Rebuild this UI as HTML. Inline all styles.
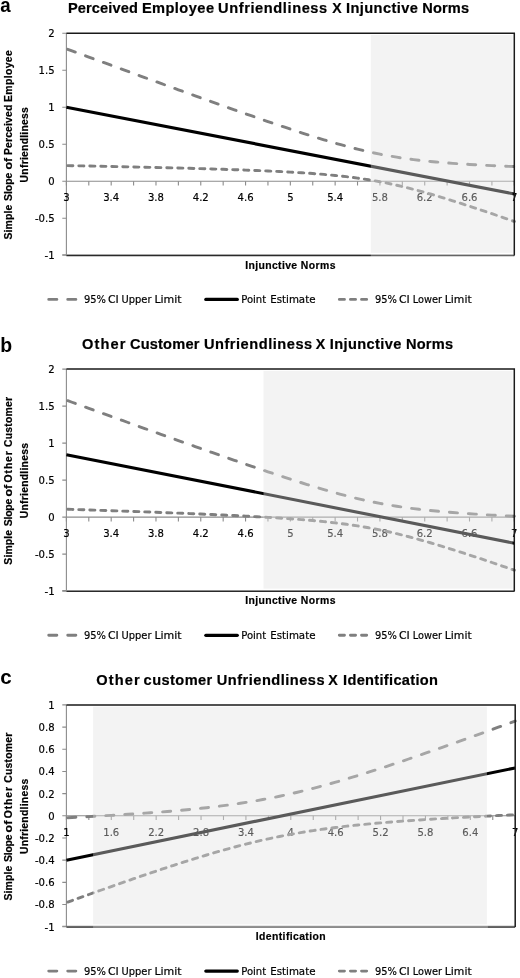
<!DOCTYPE html>
<html><head><meta charset="utf-8"><title>Figure</title>
<style>html,body{margin:0;padding:0;background:#fff}svg{display:block}</style></head>
<body>
<svg width="520" height="978" viewBox="0 0 520 978">
<rect width="520" height="978" fill="#fff"/>
<g>
<text x="0.2" y="12.1" font-family="'Liberation Sans', sans-serif" font-weight="bold" font-size="20.6" textLength="10.4" lengthAdjust="spacingAndGlyphs">a</text>
<text y="12.8" font-family="'Liberation Sans', sans-serif" font-weight="bold" font-size="14.6" stroke="#000" stroke-width="0.2"><tspan x="67.9" textLength="69.9" lengthAdjust="spacing">Perceived</tspan> <tspan x="141.9" textLength="72.1" lengthAdjust="spacing">Employee</tspan> <tspan x="218.1" textLength="109.1" lengthAdjust="spacing">Unfriendliness</tspan> <tspan x="332.2" textLength="9.4" lengthAdjust="spacingAndGlyphs">X</tspan> <tspan x="346.1" textLength="71.7" lengthAdjust="spacing">Injunctive</tspan> <tspan x="422.3" textLength="46.7" lengthAdjust="spacing">Norms</tspan></text>
<text transform="translate(11.7,0) rotate(-90)" font-family="'Liberation Sans', sans-serif" font-weight="bold" font-size="10.4" stroke="#000" stroke-width="0.2"><tspan x="-239.6" textLength="34.9" lengthAdjust="spacing">Simple</tspan> <tspan x="-201" textLength="28.4" lengthAdjust="spacing">Slope</tspan> <tspan x="-169.5" textLength="11.6" lengthAdjust="spacingAndGlyphs">of</tspan> <tspan x="-155.1" textLength="50.4" lengthAdjust="spacing">Perceived</tspan> <tspan x="-102" textLength="51.8" lengthAdjust="spacing">Employee</tspan></text>
<text transform="translate(28,182.4) rotate(-90)" font-family="'Liberation Sans', sans-serif" font-weight="bold" font-size="10.4" stroke="#000" stroke-width="0.2" textLength="75.3" lengthAdjust="spacing">Unfriendliness</text>
<text y="268.5" font-family="'Liberation Sans', sans-serif" font-weight="bold" font-size="10.4" stroke="#000" stroke-width="0.2"><tspan x="245.3" textLength="51.8" lengthAdjust="spacing">Injunctive</tspan> <tspan x="300.7" textLength="34.9" lengthAdjust="spacing">Norms</tspan></text>
<g stroke="#8c8c8c" stroke-width="1.1" fill="none">
<path d="M66.4 33.2V255.2"/>
<path d="M66.4 181.2H514.3"/>
<path d="M62.3 255.2H66.4M62.3 218.2H66.4M62.3 181.2H66.4M62.3 144.2H66.4M62.3 107.2H66.4M62.3 70.2H66.4M62.3 33.2H66.4M66.4 181.2v4.3M88.8 181.2v4.3M111.19 181.2v4.3M133.59 181.2v4.3M155.98 181.2v4.3M178.38 181.2v4.3M200.77 181.2v4.3M223.17 181.2v4.3M245.56 181.2v4.3M267.95 181.2v4.3M290.35 181.2v4.3M312.75 181.2v4.3M335.14 181.2v4.3M357.53 181.2v4.3M379.93 181.2v4.3M402.32 181.2v4.3M424.72 181.2v4.3M447.12 181.2v4.3M469.51 181.2v4.3M491.91 181.2v4.3M514.3 181.2v4.3"/>
</g>
<g font-family="'DejaVu Sans', sans-serif" font-size="11" fill="#000" stroke="#000" stroke-width="0.2">
<text x="54.6" y="259.1" text-anchor="end" textLength="10.1" lengthAdjust="spacingAndGlyphs">-1</text>
<text x="54.6" y="222.1" text-anchor="end" textLength="19.7" lengthAdjust="spacingAndGlyphs">-0.5</text>
<text x="54.6" y="185.1" text-anchor="end" textLength="6.4" lengthAdjust="spacingAndGlyphs">0</text>
<text x="54.6" y="148.1" text-anchor="end" textLength="16" lengthAdjust="spacingAndGlyphs">0.5</text>
<text x="54.6" y="111.1" text-anchor="end" textLength="6.4" lengthAdjust="spacingAndGlyphs">1</text>
<text x="54.6" y="74.1" text-anchor="end" textLength="16" lengthAdjust="spacingAndGlyphs">1.5</text>
<text x="54.6" y="37.1" text-anchor="end" textLength="6.4" lengthAdjust="spacingAndGlyphs">2</text>
<text x="66.4" y="201.2" text-anchor="middle" textLength="6.4" lengthAdjust="spacingAndGlyphs">3</text>
<text x="111.19" y="201.2" text-anchor="middle" textLength="16" lengthAdjust="spacingAndGlyphs">3.4</text>
<text x="155.98" y="201.2" text-anchor="middle" textLength="16" lengthAdjust="spacingAndGlyphs">3.8</text>
<text x="200.77" y="201.2" text-anchor="middle" textLength="16" lengthAdjust="spacingAndGlyphs">4.2</text>
<text x="245.56" y="201.2" text-anchor="middle" textLength="16" lengthAdjust="spacingAndGlyphs">4.6</text>
<text x="290.35" y="201.2" text-anchor="middle" textLength="6.4" lengthAdjust="spacingAndGlyphs">5</text>
<text x="335.14" y="201.2" text-anchor="middle" textLength="16" lengthAdjust="spacingAndGlyphs">5.4</text>
<text x="379.93" y="201.2" text-anchor="middle" textLength="16" lengthAdjust="spacingAndGlyphs">5.8</text>
<text x="424.72" y="201.2" text-anchor="middle" textLength="16" lengthAdjust="spacingAndGlyphs">6.2</text>
<text x="469.51" y="201.2" text-anchor="middle" textLength="16" lengthAdjust="spacingAndGlyphs">6.6</text>
<text x="514.3" y="201.2" text-anchor="middle" textLength="6.4" lengthAdjust="spacingAndGlyphs">7</text>
</g>
<path d="M62.3 254.7H514.3" stroke="#8c8c8c" stroke-width="1.1"/>
<g fill="none" stroke-width="2.9" stroke-linecap="round">
<path d="M66.4 48.81L72 50.87L77.6 52.93L83.2 54.99L88.8 57.05L94.39 59.11L99.99 61.17L105.59 63.22L111.19 65.28L116.79 67.33L122.39 69.38L127.99 71.43L133.59 73.47L139.18 75.52L144.78 77.56L150.38 79.6L155.98 81.64L161.58 83.68L167.18 85.71L172.78 87.74L178.38 89.77L183.97 91.8L189.57 93.82L195.17 95.84L200.77 97.85L206.37 99.86L211.97 101.86L217.57 103.86L223.17 105.86L228.76 107.84L234.36 109.83L239.96 111.8L245.56 113.77L251.16 115.72L256.76 117.67L262.36 119.61L267.95 121.54L273.55 123.45L279.15 125.35L284.75 127.23L290.35 129.1L295.95 130.94L301.55 132.77L307.15 134.57L312.75 136.35L318.34 138.09L323.94 139.8L329.54 141.48L335.14 143.11L340.74 144.7L346.34 146.23L351.94 147.72L357.53 149.14L363.13 150.5L368.73 151.79L374.33 153.02L379.93 154.17L385.53 155.24L391.13 156.25L396.73 157.18L402.32 158.05L407.92 158.84L413.52 159.58L419.12 160.25L424.72 160.88L430.32 161.45L435.92 161.98L441.52 162.47L447.12 162.92L452.71 163.34L458.31 163.73L463.91 164.09L469.51 164.43L475.11 164.75L480.71 165.05L486.31 165.34L491.91 165.61L497.5 165.86L503.1 166.1L508.7 166.33L514.3 166.55" stroke="#7f7f7f" stroke-dasharray="8.1 10.9" stroke-dashoffset="-1.4"/>
<path d="M66.4 165.59L72 165.7L77.6 165.81L83.2 165.92L88.8 166.03L94.39 166.14L99.99 166.25L105.59 166.37L111.19 166.48L116.79 166.6L122.39 166.72L127.99 166.84L133.59 166.97L139.18 167.09L144.78 167.22L150.38 167.35L155.98 167.48L161.58 167.61L167.18 167.75L172.78 167.89L178.38 168.03L183.97 168.17L189.57 168.32L195.17 168.48L200.77 168.63L206.37 168.79L211.97 168.96L217.57 169.13L223.17 169.31L228.76 169.49L234.36 169.68L239.96 169.87L245.56 170.08L251.16 170.29L256.76 170.51L262.36 170.74L267.95 170.99L273.55 171.24L279.15 171.51L284.75 171.8L290.35 172.1L295.95 172.43L301.55 172.77L307.15 173.14L312.75 173.54L318.34 173.96L323.94 174.42L329.54 174.92L335.14 175.45L340.74 176.04L346.34 176.67L351.94 177.36L357.53 178.1L363.13 178.91L368.73 179.79L374.33 180.74L379.93 181.76L385.53 182.85L391.13 184.01L396.73 185.25L402.32 186.56L407.92 187.93L413.52 189.37L419.12 190.86L424.72 192.41L430.32 194L435.92 195.64L441.52 197.32L447.12 199.04L452.71 200.79L458.31 202.57L463.91 204.38L469.51 206.21L475.11 208.06L480.71 209.93L486.31 211.82L491.91 213.72L497.5 215.63L503.1 217.56L508.7 219.5L514.3 221.45" stroke="#7f7f7f" stroke-dasharray="5.1 5.9" stroke-dashoffset="-1.4"/>
<path d="M66.4 107.2L514.3 194" stroke="#000" stroke-width="3.1" stroke-linecap="butt"/>
</g>
<path d="M66.4 33.2H514.3V255.6" fill="none" stroke="#1a1a1a" stroke-width="1.5"/>
<path d="M66.4 255.6H514.3" stroke="#2a2a2a" stroke-width="1.2"/>
<rect x="370.8" y="35" width="141.8" height="217.8" fill="#e2e2e2" fill-opacity="0.4"/>
<rect x="370.8" y="253.9" width="142.8" height="3" fill="#fff" fill-opacity="0.28"/>
<g fill="none" stroke-width="2.9" stroke-linecap="round">
<path d="M48.75 299.4H75.9" stroke="#7f7f7f" stroke-dasharray="8.1 10.9"/>
<path d="M205.8 299.4H237.3" stroke="#000" stroke-width="3.2"/>
<path d="M339.35 299.4H366.7" stroke="#7f7f7f" stroke-dasharray="5.1 6"/>
</g>
<g font-family="'DejaVu Sans', sans-serif" font-size="11" fill="#000" stroke="#000" stroke-width="0.2">
<text y="303.4"><tspan x="83.95" textLength="22.05" lengthAdjust="spacingAndGlyphs">95%</tspan> <tspan x="107.9" textLength="10.8" lengthAdjust="spacingAndGlyphs">CI</tspan> <tspan x="121.6" textLength="29.9" lengthAdjust="spacingAndGlyphs">Upper</tspan> <tspan x="154.4" textLength="27.3" lengthAdjust="spacingAndGlyphs">Limit</tspan></text>
<text y="303.4"><tspan x="241.2" textLength="25" lengthAdjust="spacingAndGlyphs">Point</tspan> <tspan x="270.2" textLength="45.3" lengthAdjust="spacingAndGlyphs">Estimate</tspan></text>
<text y="303.4"><tspan x="375" textLength="22" lengthAdjust="spacingAndGlyphs">95%</tspan> <tspan x="398.9" textLength="10.8" lengthAdjust="spacingAndGlyphs">CI</tspan> <tspan x="412.7" textLength="29.2" lengthAdjust="spacingAndGlyphs">Lower</tspan> <tspan x="444.8" textLength="26.9" lengthAdjust="spacingAndGlyphs">Limit</tspan></text>
</g>
</g>
<g>
<text x="0.2" y="351.8" font-family="'Liberation Sans', sans-serif" font-weight="bold" font-size="20.6" textLength="11.9" lengthAdjust="spacingAndGlyphs">b</text>
<text y="348.7" font-family="'Liberation Sans', sans-serif" font-weight="bold" font-size="14.6" stroke="#000" stroke-width="0.2"><tspan x="82.1" textLength="43.3" lengthAdjust="spacing">Other</tspan> <tspan x="129.9" textLength="69.5" lengthAdjust="spacing">Customer</tspan> <tspan x="203.9" textLength="108.3" lengthAdjust="spacing">Unfriendliness</tspan> <tspan x="315.8" textLength="9.5" lengthAdjust="spacingAndGlyphs">X</tspan> <tspan x="329.8" textLength="71.6" lengthAdjust="spacing">Injunctive</tspan> <tspan x="405.9" textLength="47.1" lengthAdjust="spacing">Norms</tspan></text>
<text transform="translate(11.7,0) rotate(-90)" font-family="'Liberation Sans', sans-serif" font-weight="bold" font-size="10.4" stroke="#000" stroke-width="0.2"><tspan x="-564.7" textLength="34.8" lengthAdjust="spacing">Simple</tspan> <tspan x="-526.2" textLength="27.5" lengthAdjust="spacing">Slope</tspan> <tspan x="-496.6" textLength="11.7" lengthAdjust="spacingAndGlyphs">of</tspan> <tspan x="-482.4" textLength="31.2" lengthAdjust="spacing">Other</tspan> <tspan x="-447" textLength="50.1" lengthAdjust="spacing">Customer</tspan></text>
<text transform="translate(28,518.3) rotate(-90)" font-family="'Liberation Sans', sans-serif" font-weight="bold" font-size="10.4" stroke="#000" stroke-width="0.2" textLength="75.3" lengthAdjust="spacing">Unfriendliness</text>
<text y="604.4" font-family="'Liberation Sans', sans-serif" font-weight="bold" font-size="10.4" stroke="#000" stroke-width="0.2"><tspan x="245.3" textLength="51.8" lengthAdjust="spacing">Injunctive</tspan> <tspan x="300.7" textLength="34.9" lengthAdjust="spacing">Norms</tspan></text>
<g stroke="#8c8c8c" stroke-width="1.1" fill="none">
<path d="M66.4 369.1V591.1"/>
<path d="M66.4 517.1H514.3"/>
<path d="M62.3 591.1H66.4M62.3 554.1H66.4M62.3 517.1H66.4M62.3 480.1H66.4M62.3 443.1H66.4M62.3 406.1H66.4M62.3 369.1H66.4M66.4 517.1v4.3M88.8 517.1v4.3M111.19 517.1v4.3M133.59 517.1v4.3M155.98 517.1v4.3M178.38 517.1v4.3M200.77 517.1v4.3M223.17 517.1v4.3M245.56 517.1v4.3M267.95 517.1v4.3M290.35 517.1v4.3M312.75 517.1v4.3M335.14 517.1v4.3M357.53 517.1v4.3M379.93 517.1v4.3M402.32 517.1v4.3M424.72 517.1v4.3M447.12 517.1v4.3M469.51 517.1v4.3M491.91 517.1v4.3M514.3 517.1v4.3"/>
</g>
<g font-family="'DejaVu Sans', sans-serif" font-size="11" fill="#000" stroke="#000" stroke-width="0.2">
<text x="54.6" y="595" text-anchor="end" textLength="10.1" lengthAdjust="spacingAndGlyphs">-1</text>
<text x="54.6" y="558" text-anchor="end" textLength="19.7" lengthAdjust="spacingAndGlyphs">-0.5</text>
<text x="54.6" y="521" text-anchor="end" textLength="6.4" lengthAdjust="spacingAndGlyphs">0</text>
<text x="54.6" y="484" text-anchor="end" textLength="16" lengthAdjust="spacingAndGlyphs">0.5</text>
<text x="54.6" y="447" text-anchor="end" textLength="6.4" lengthAdjust="spacingAndGlyphs">1</text>
<text x="54.6" y="410" text-anchor="end" textLength="16" lengthAdjust="spacingAndGlyphs">1.5</text>
<text x="54.6" y="373" text-anchor="end" textLength="6.4" lengthAdjust="spacingAndGlyphs">2</text>
<text x="66.4" y="537.1" text-anchor="middle" textLength="6.4" lengthAdjust="spacingAndGlyphs">3</text>
<text x="111.19" y="537.1" text-anchor="middle" textLength="16" lengthAdjust="spacingAndGlyphs">3.4</text>
<text x="155.98" y="537.1" text-anchor="middle" textLength="16" lengthAdjust="spacingAndGlyphs">3.8</text>
<text x="200.77" y="537.1" text-anchor="middle" textLength="16" lengthAdjust="spacingAndGlyphs">4.2</text>
<text x="245.56" y="537.1" text-anchor="middle" textLength="16" lengthAdjust="spacingAndGlyphs">4.6</text>
<text x="290.35" y="537.1" text-anchor="middle" textLength="6.4" lengthAdjust="spacingAndGlyphs">5</text>
<text x="335.14" y="537.1" text-anchor="middle" textLength="16" lengthAdjust="spacingAndGlyphs">5.4</text>
<text x="379.93" y="537.1" text-anchor="middle" textLength="16" lengthAdjust="spacingAndGlyphs">5.8</text>
<text x="424.72" y="537.1" text-anchor="middle" textLength="16" lengthAdjust="spacingAndGlyphs">6.2</text>
<text x="469.51" y="537.1" text-anchor="middle" textLength="16" lengthAdjust="spacingAndGlyphs">6.6</text>
<text x="514.3" y="537.1" text-anchor="middle" textLength="6.4" lengthAdjust="spacingAndGlyphs">7</text>
</g>
<path d="M62.3 590.6H514.3" stroke="#8c8c8c" stroke-width="1.1"/>
<g fill="none" stroke-width="2.9" stroke-linecap="round">
<path d="M66.4 400.21L72 402.24L77.6 404.27L83.2 406.3L88.8 408.33L94.39 410.36L99.99 412.38L105.59 414.4L111.19 416.43L116.79 418.45L122.39 420.47L127.99 422.49L133.59 424.5L139.18 426.52L144.78 428.53L150.38 430.54L155.98 432.54L161.58 434.55L167.18 436.55L172.78 438.55L178.38 440.55L183.97 442.54L189.57 444.53L195.17 446.51L200.77 448.49L206.37 450.47L211.97 452.44L217.57 454.41L223.17 456.37L228.76 458.32L234.36 460.27L239.96 462.21L245.56 464.14L251.16 466.06L256.76 467.97L262.36 469.87L267.95 471.76L273.55 473.64L279.15 475.5L284.75 477.34L290.35 479.16L295.95 480.97L301.55 482.75L307.15 484.51L312.75 486.23L318.34 487.93L323.94 489.59L329.54 491.21L335.14 492.79L340.74 494.32L346.34 495.8L351.94 497.22L357.53 498.58L363.13 499.89L368.73 501.12L374.33 502.29L379.93 503.39L385.53 504.42L391.13 505.39L396.73 506.29L402.32 507.12L407.92 507.9L413.52 508.63L419.12 509.3L424.72 509.93L430.32 510.51L435.92 511.06L441.52 511.57L447.12 512.05L452.71 512.5L458.31 512.93L463.91 513.33L469.51 513.72L475.11 514.08L480.71 514.43L486.31 514.77L491.91 515.09L497.5 515.4L503.1 515.7L508.7 515.99L514.3 516.27" stroke="#7f7f7f" stroke-dasharray="8.1 10.9" stroke-dashoffset="-1.4"/>
<path d="M66.4 509.23L72 509.41L77.6 509.59L83.2 509.77L88.8 509.96L94.39 510.14L99.99 510.33L105.59 510.52L111.19 510.71L116.79 510.9L122.39 511.09L127.99 511.29L133.59 511.49L139.18 511.68L144.78 511.89L150.38 512.09L155.98 512.29L161.58 512.5L167.18 512.71L172.78 512.93L178.38 513.14L183.97 513.36L189.57 513.59L195.17 513.81L200.77 514.04L206.37 514.28L211.97 514.52L217.57 514.77L223.17 515.02L228.76 515.28L234.36 515.54L239.96 515.82L245.56 516.1L251.16 516.39L256.76 516.69L262.36 517L267.95 517.33L273.55 517.66L279.15 518.02L284.75 518.39L290.35 518.78L295.95 519.18L301.55 519.62L307.15 520.07L312.75 520.56L318.34 521.08L323.94 521.63L329.54 522.22L335.14 522.86L340.74 523.54L346.34 524.27L351.94 525.06L357.53 525.91L363.13 526.82L368.73 527.79L374.33 528.84L379.93 529.95L385.53 531.13L391.13 532.38L396.73 533.69L402.32 535.07L407.92 536.5L413.52 537.99L419.12 539.53L424.72 541.12L430.32 542.74L435.92 544.41L441.52 546.11L447.12 547.84L452.71 549.6L458.31 551.39L463.91 553.2L469.51 555.03L475.11 556.87L480.71 558.73L486.31 560.61L491.91 562.5L497.5 564.41L503.1 566.32L508.7 568.24L514.3 570.18" stroke="#7f7f7f" stroke-dasharray="5.1 5.9" stroke-dashoffset="-1.4"/>
<path d="M66.4 454.72L514.3 543.22" stroke="#000" stroke-width="3.1" stroke-linecap="butt"/>
</g>
<path d="M66.4 369.1H514.3V591.5" fill="none" stroke="#1a1a1a" stroke-width="1.5"/>
<path d="M66.4 591.5H514.3" stroke="#2a2a2a" stroke-width="1.2"/>
<rect x="263.5" y="370.9" width="249.1" height="217.8" fill="#e2e2e2" fill-opacity="0.4"/>
<g fill="none" stroke-width="2.9" stroke-linecap="round">
<path d="M48.75 635.3H75.9" stroke="#7f7f7f" stroke-dasharray="8.1 10.9"/>
<path d="M205.8 635.3H237.3" stroke="#000" stroke-width="3.2"/>
<path d="M339.35 635.3H366.7" stroke="#7f7f7f" stroke-dasharray="5.1 6"/>
</g>
<g font-family="'DejaVu Sans', sans-serif" font-size="11" fill="#000" stroke="#000" stroke-width="0.2">
<text y="639.3"><tspan x="83.95" textLength="22.05" lengthAdjust="spacingAndGlyphs">95%</tspan> <tspan x="107.9" textLength="10.8" lengthAdjust="spacingAndGlyphs">CI</tspan> <tspan x="121.6" textLength="29.9" lengthAdjust="spacingAndGlyphs">Upper</tspan> <tspan x="154.4" textLength="27.3" lengthAdjust="spacingAndGlyphs">Limit</tspan></text>
<text y="639.3"><tspan x="241.2" textLength="25" lengthAdjust="spacingAndGlyphs">Point</tspan> <tspan x="270.2" textLength="45.3" lengthAdjust="spacingAndGlyphs">Estimate</tspan></text>
<text y="639.3"><tspan x="375" textLength="22" lengthAdjust="spacingAndGlyphs">95%</tspan> <tspan x="398.9" textLength="10.8" lengthAdjust="spacingAndGlyphs">CI</tspan> <tspan x="412.7" textLength="29.2" lengthAdjust="spacingAndGlyphs">Lower</tspan> <tspan x="444.8" textLength="26.9" lengthAdjust="spacingAndGlyphs">Limit</tspan></text>
</g>
</g>
<g>
<text x="0.2" y="683.7" font-family="'Liberation Sans', sans-serif" font-weight="bold" font-size="20.6">c</text>
<text y="684.5" font-family="'Liberation Sans', sans-serif" font-weight="bold" font-size="14.6" stroke="#000" stroke-width="0.2"><tspan x="96.2" textLength="43.4" lengthAdjust="spacing">Other</tspan> <tspan x="143.6" textLength="68.7" lengthAdjust="spacing">customer</tspan> <tspan x="216.8" textLength="107.8" lengthAdjust="spacing">Unfriendliness</tspan> <tspan x="328.2" textLength="9.5" lengthAdjust="spacingAndGlyphs">X</tspan> <tspan x="343.1" textLength="94.8" lengthAdjust="spacing">Identification</tspan></text>
<text transform="translate(11.7,0) rotate(-90)" font-family="'Liberation Sans', sans-serif" font-weight="bold" font-size="10.4" stroke="#000" stroke-width="0.2"><tspan x="-900.5" textLength="34.8" lengthAdjust="spacing">Simple</tspan> <tspan x="-862" textLength="27.5" lengthAdjust="spacing">Slope</tspan> <tspan x="-832.4" textLength="11.7" lengthAdjust="spacingAndGlyphs">of</tspan> <tspan x="-818.2" textLength="31.2" lengthAdjust="spacing">Other</tspan> <tspan x="-782.8" textLength="50.1" lengthAdjust="spacing">Customer</tspan></text>
<text transform="translate(28,854.1) rotate(-90)" font-family="'Liberation Sans', sans-serif" font-weight="bold" font-size="10.4" stroke="#000" stroke-width="0.2" textLength="75.3" lengthAdjust="spacing">Unfriendliness</text>
<text y="940" font-family="'Liberation Sans', sans-serif" font-weight="bold" font-size="10.4" stroke="#000" stroke-width="0.2"><tspan x="255.8" textLength="69.8" lengthAdjust="spacing">Identification</tspan></text>
<g stroke="#8c8c8c" stroke-width="1.1" fill="none">
<path d="M66.4 704.9V926.7"/>
<path d="M66.4 815.8H515.2"/>
<path d="M62.3 926.7H66.4M62.3 904.52H66.4M62.3 882.34H66.4M62.3 860.16H66.4M62.3 837.98H66.4M62.3 815.8H66.4M62.3 793.62H66.4M62.3 771.44H66.4M62.3 749.26H66.4M62.3 727.08H66.4M62.3 704.9H66.4M66.4 815.8v4.3M88.84 815.8v4.3M111.28 815.8v4.3M133.72 815.8v4.3M156.16 815.8v4.3M178.6 815.8v4.3M201.04 815.8v4.3M223.48 815.8v4.3M245.92 815.8v4.3M268.36 815.8v4.3M290.8 815.8v4.3M313.24 815.8v4.3M335.68 815.8v4.3M358.12 815.8v4.3M380.56 815.8v4.3M403 815.8v4.3M425.44 815.8v4.3M447.88 815.8v4.3M470.32 815.8v4.3M492.76 815.8v4.3M515.2 815.8v4.3"/>
</g>
<g font-family="'DejaVu Sans', sans-serif" font-size="11" fill="#000" stroke="#000" stroke-width="0.2">
<text x="54.6" y="930.6" text-anchor="end" textLength="10.1" lengthAdjust="spacingAndGlyphs">-1</text>
<text x="54.6" y="908.42" text-anchor="end" textLength="19.7" lengthAdjust="spacingAndGlyphs">-0.8</text>
<text x="54.6" y="886.24" text-anchor="end" textLength="19.7" lengthAdjust="spacingAndGlyphs">-0.6</text>
<text x="54.6" y="864.06" text-anchor="end" textLength="19.7" lengthAdjust="spacingAndGlyphs">-0.4</text>
<text x="54.6" y="841.88" text-anchor="end" textLength="19.7" lengthAdjust="spacingAndGlyphs">-0.2</text>
<text x="54.6" y="819.7" text-anchor="end" textLength="6.4" lengthAdjust="spacingAndGlyphs">0</text>
<text x="54.6" y="797.52" text-anchor="end" textLength="16" lengthAdjust="spacingAndGlyphs">0.2</text>
<text x="54.6" y="775.34" text-anchor="end" textLength="16" lengthAdjust="spacingAndGlyphs">0.4</text>
<text x="54.6" y="753.16" text-anchor="end" textLength="16" lengthAdjust="spacingAndGlyphs">0.6</text>
<text x="54.6" y="730.98" text-anchor="end" textLength="16" lengthAdjust="spacingAndGlyphs">0.8</text>
<text x="54.6" y="708.8" text-anchor="end" textLength="6.4" lengthAdjust="spacingAndGlyphs">1</text>
<text x="66.4" y="835.8" text-anchor="middle" textLength="6.4" lengthAdjust="spacingAndGlyphs">1</text>
<text x="111.28" y="835.8" text-anchor="middle" textLength="16" lengthAdjust="spacingAndGlyphs">1.6</text>
<text x="156.16" y="835.8" text-anchor="middle" textLength="16" lengthAdjust="spacingAndGlyphs">2.2</text>
<text x="201.04" y="835.8" text-anchor="middle" textLength="16" lengthAdjust="spacingAndGlyphs">2.8</text>
<text x="245.92" y="835.8" text-anchor="middle" textLength="16" lengthAdjust="spacingAndGlyphs">3.4</text>
<text x="290.8" y="835.8" text-anchor="middle" textLength="6.4" lengthAdjust="spacingAndGlyphs">4</text>
<text x="335.68" y="835.8" text-anchor="middle" textLength="16" lengthAdjust="spacingAndGlyphs">4.6</text>
<text x="380.56" y="835.8" text-anchor="middle" textLength="16" lengthAdjust="spacingAndGlyphs">5.2</text>
<text x="425.44" y="835.8" text-anchor="middle" textLength="16" lengthAdjust="spacingAndGlyphs">5.8</text>
<text x="470.32" y="835.8" text-anchor="middle" textLength="16" lengthAdjust="spacingAndGlyphs">6.4</text>
<text x="515.2" y="835.8" text-anchor="middle" textLength="6.4" lengthAdjust="spacingAndGlyphs">7</text>
</g>
<path d="M62.3 926.2H515.2" stroke="#8c8c8c" stroke-width="1.1"/>
<g fill="none" stroke-width="2.9" stroke-linecap="round">
<path d="M66.4 817.75L72.01 817.47L77.62 817.19L83.23 816.9L88.84 816.6L94.45 816.3L100.06 815.99L105.67 815.67L111.28 815.34L116.89 815.01L122.5 814.66L128.11 814.3L133.72 813.94L139.33 813.56L144.94 813.17L150.55 812.76L156.16 812.35L161.77 811.91L167.38 811.46L172.99 810.99L178.6 810.5L184.21 809.99L189.82 809.45L195.43 808.89L201.04 808.31L206.65 807.69L212.26 807.05L217.87 806.37L223.48 805.66L229.09 804.91L234.7 804.13L240.31 803.3L245.92 802.43L251.53 801.52L257.14 800.56L262.75 799.55L268.36 798.5L273.97 797.4L279.58 796.24L285.19 795.04L290.8 793.79L296.41 792.49L302.02 791.15L307.63 789.75L313.24 788.32L318.85 786.84L324.46 785.32L330.07 783.76L335.68 782.17L341.29 780.54L346.9 778.88L352.51 777.19L358.12 775.47L363.73 773.72L369.34 771.95L374.95 770.16L380.56 768.34L386.17 766.51L391.78 764.65L397.39 762.78L403 760.9L408.61 759L414.22 757.08L419.83 755.16L425.44 753.22L431.05 751.27L436.66 749.31L442.27 747.34L447.88 745.36L453.49 743.37L459.1 741.38L464.71 739.37L470.32 737.37L475.93 735.35L481.54 733.33L487.15 731.3L492.76 729.27L498.37 727.23L503.98 725.19L509.59 723.15L515.2 721.1" stroke="#7f7f7f" stroke-dasharray="8.1 10.9" stroke-dashoffset="-1.4"/>
<path d="M66.4 902.57L72.01 900.54L77.62 898.52L83.23 896.51L88.84 894.5L94.45 892.5L100.06 890.5L105.67 888.52L111.28 886.54L116.89 884.57L122.5 882.61L128.11 880.66L133.72 878.72L139.33 876.79L144.94 874.88L150.55 872.98L156.16 871.09L161.77 869.22L167.38 867.37L172.99 865.53L178.6 863.72L184.21 861.92L189.82 860.15L195.43 858.4L201.04 856.68L206.65 854.99L212.26 853.33L217.87 851.7L223.48 850.11L229.09 848.55L234.7 847.03L240.31 845.55L245.92 844.12L251.53 842.72L257.14 841.38L262.75 840.08L268.36 838.83L273.97 837.63L279.58 836.47L285.19 835.37L290.8 834.32L296.41 833.31L302.02 832.35L307.63 831.44L313.24 830.57L318.85 829.74L324.46 828.95L330.07 828.21L335.68 827.5L341.29 826.82L346.9 826.17L352.51 825.56L358.12 824.98L363.73 824.42L369.34 823.88L374.95 823.37L380.56 822.88L386.17 822.41L391.78 821.96L397.39 821.52L403 821.1L408.61 820.7L414.22 820.31L419.83 819.93L425.44 819.56L431.05 819.21L436.66 818.86L442.27 818.53L447.88 818.2L453.49 817.88L459.1 817.57L464.71 817.27L470.32 816.97L475.93 816.68L481.54 816.4L487.15 816.12L492.76 815.84L498.37 815.57L503.98 815.31L509.59 815.05L515.2 814.8" stroke="#7f7f7f" stroke-dasharray="5.1 5.9" stroke-dashoffset="-1.4"/>
<path d="M66.4 860.16L515.2 767.95" stroke="#000" stroke-width="3.1" stroke-linecap="butt"/>
</g>
<path d="M66.4 704.9H515.2V927.1" fill="none" stroke="#1a1a1a" stroke-width="1.5"/>
<path d="M66.4 927.1H515.2" stroke="#2a2a2a" stroke-width="1.2"/>
<rect x="93.1" y="706.7" width="393.8" height="217.6" fill="#e2e2e2" fill-opacity="0.4"/>
<rect x="93.1" y="925.4" width="394.8" height="3" fill="#fff" fill-opacity="0.28"/>
<g fill="none" stroke-width="2.9" stroke-linecap="round">
<path d="M48.75 971.1H75.9" stroke="#7f7f7f" stroke-dasharray="8.1 10.9"/>
<path d="M205.8 971.1H237.3" stroke="#000" stroke-width="3.2"/>
<path d="M339.35 971.1H366.7" stroke="#7f7f7f" stroke-dasharray="5.1 6"/>
</g>
<g font-family="'DejaVu Sans', sans-serif" font-size="11" fill="#000" stroke="#000" stroke-width="0.2">
<text y="975.1"><tspan x="83.95" textLength="22.05" lengthAdjust="spacingAndGlyphs">95%</tspan> <tspan x="107.9" textLength="10.8" lengthAdjust="spacingAndGlyphs">CI</tspan> <tspan x="121.6" textLength="29.9" lengthAdjust="spacingAndGlyphs">Upper</tspan> <tspan x="154.4" textLength="27.3" lengthAdjust="spacingAndGlyphs">Limit</tspan></text>
<text y="975.1"><tspan x="241.2" textLength="25" lengthAdjust="spacingAndGlyphs">Point</tspan> <tspan x="270.2" textLength="45.3" lengthAdjust="spacingAndGlyphs">Estimate</tspan></text>
<text y="975.1"><tspan x="375" textLength="22" lengthAdjust="spacingAndGlyphs">95%</tspan> <tspan x="398.9" textLength="10.8" lengthAdjust="spacingAndGlyphs">CI</tspan> <tspan x="412.7" textLength="29.2" lengthAdjust="spacingAndGlyphs">Lower</tspan> <tspan x="444.8" textLength="26.9" lengthAdjust="spacingAndGlyphs">Limit</tspan></text>
</g>
</g>
</svg>
</body></html>
